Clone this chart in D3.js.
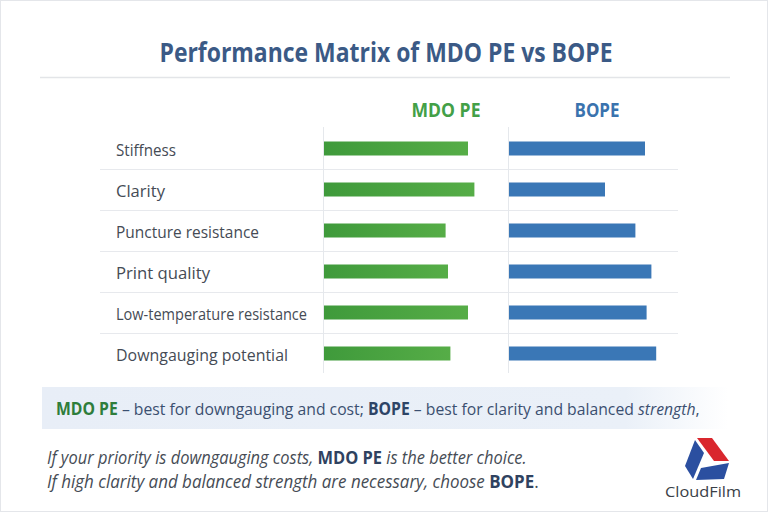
<!DOCTYPE html>
<html lang="en">
<head>
<meta charset="utf-8">
<title>Performance Matrix of MDO PE vs BOPE</title>
<script src="https://d3js.org/d3.v7.min.js"></script>
<style>
  html, body { margin: 0; padding: 0; background: #ffffff; }
  svg text { font-family: "Open Sans", "Noto Sans", sans-serif; }
</style>
</head>
<body>
<script>
// chart data
const categories = ["Stiffness", "Clarity", "Puncture resistance", "Print quality",
                    "Low-temperature resistance", "Downgauging potential"];
const mdoValues = [9.0, 9.4, 7.6, 7.75, 9.0, 7.9];
const bopeValues = [8.5, 6.0, 7.9, 8.9, 8.6, 9.2];
const seriesNames = ["MDO PE", "BOPE"];

const w = 768, h = 512;
const blue = "#3a77b6";

const svg = d3.select("body").append("svg")
    .attr("width", w).attr("height", h);

const defs = svg.append("defs");
const gGrad = defs.append("linearGradient").attr("id", "gGrad");
gGrad.append("stop").attr("offset", "0%").attr("stop-color", "#3f9a3b");
gGrad.append("stop").attr("offset", "100%").attr("stop-color", "#56ad47");
const boxGrad = defs.append("linearGradient").attr("id", "boxGrad");
boxGrad.append("stop").attr("offset", "0%").attr("stop-color", "#e8eef7");
boxGrad.append("stop").attr("offset", "85%").attr("stop-color", "#eaf0f8");
boxGrad.append("stop").attr("offset", "100%").attr("stop-color", "#ffffff");

// squeeze a mixed-style text horizontally to a target width (condensed look)
function fitWidth(g, x, y, target) {
  const bw = g.node().getBBox().width;
  g.attr("transform", `translate(${x},${y}) scale(${target / bw},1)`);
}

// card border
svg.append("rect").attr("x", 0.5).attr("y", 0.5).attr("width", w - 1).attr("height", h - 1)
    .attr("fill", "#fff").attr("stroke", "#e4e6ea");

// title
svg.append("text")
    .attr("x", 386).attr("y", 62)
    .attr("text-anchor", "middle")
    .attr("font-size", 26).attr("font-weight", 700)
    .attr("fill", "#3b5a86")
    .attr("textLength", 453).attr("lengthAdjust", "spacingAndGlyphs")
    .text("Performance Matrix of MDO PE vs BOPE");

svg.append("line").attr("x1", 40).attr("x2", 730).attr("y1", 77.5).attr("y2", 77.5)
    .attr("stroke", "#e3e5e8").attr("stroke-width", 1.5);

// scales
const y = d3.scaleBand().domain(categories).range([128, 374]);
const xMdo = d3.scaleLinear().domain([0, 10]).range([324, 484]);
const xBope = d3.scaleLinear().domain([0, 10]).range([509, 669]);
const barH = 14;

// column headers
svg.append("text").attr("x", 446).attr("y", 117).attr("text-anchor", "middle")
    .attr("font-size", 19).attr("font-weight", 700).attr("fill", "#43a047")
    .attr("textLength", 69).attr("lengthAdjust", "spacingAndGlyphs")
    .text(seriesNames[0]);
svg.append("text").attr("x", 597).attr("y", 117).attr("text-anchor", "middle")
    .attr("font-size", 19).attr("font-weight", 700).attr("fill", "#3a73ae")
    .attr("textLength", 45).attr("lengthAdjust", "spacingAndGlyphs")
    .text(seriesNames[1]);

// row separators
svg.selectAll("line.sep").data(categories.slice(0, -1)).enter().append("line")
    .attr("class", "sep")
    .attr("x1", 100).attr("x2", 678)
    .attr("y1", d => y(d) + y.step() + 0.5).attr("y2", d => y(d) + y.step() + 0.5)
    .attr("stroke", "#e7e9ed");

// column dividers
[xMdo(0), xBope(0)].forEach(x => {
  svg.append("line").attr("x1", x - 0.5).attr("x2", x - 0.5)
      .attr("y1", 127).attr("y2", 373)
      .attr("stroke", "#e5e8ec");
});

// row labels
const labelWidths = [60, 49, 143, 94, 191, 172];
svg.selectAll("text.lab").data(categories).enter().append("text")
    .attr("class", "lab")
    .attr("x", 116)
    .attr("y", d => y(d) + y.step() / 2 + 7)
    .attr("font-size", 17).attr("fill", "#454b55")
    .attr("textLength", (d, i) => labelWidths[i]).attr("lengthAdjust", "spacingAndGlyphs")
    .text(d => d);

// bars
svg.selectAll("rect.mdo").data(mdoValues).enter().append("rect")
    .attr("class", "mdo")
    .attr("x", xMdo(0))
    .attr("y", (d, i) => y(categories[i]) + (y.step() - barH) / 2)
    .attr("width", d => xMdo(d) - xMdo(0))
    .attr("height", barH)
    .attr("fill", "url(#gGrad)");

svg.selectAll("rect.bope").data(bopeValues).enter().append("rect")
    .attr("class", "bope")
    .attr("x", xBope(0))
    .attr("y", (d, i) => y(categories[i]) + (y.step() - barH) / 2)
    .attr("width", d => xBope(d) - xBope(0))
    .attr("height", barH)
    .attr("fill", blue);

// summary box
svg.append("rect").attr("x", 42).attr("y", 387).attr("width", 686).attr("height", 42)
    .attr("fill", "url(#boxGrad)");

const sumG = svg.append("g");
const sum = sumG.append("text").attr("font-size", 17).attr("fill", "#3b4f70");
sum.append("tspan").attr("font-weight", 700).attr("fill", "#2e7d3b").text("MDO PE");
sum.append("tspan").text(" \u2013 best for downgauging and cost; ");
sum.append("tspan").attr("font-weight", 700).attr("fill", "#2d4466").text("BOPE");
sum.append("tspan").text(" \u2013 best for clarity and balanced ");
sum.append("tspan").attr("font-style", "italic").text("strength");
sum.append("tspan").text(",");
fitWidth(sumG, 56, 415, 644);

// recommendations
const rec1G = svg.append("g");
const rec1 = rec1G.append("text")
    .attr("font-size", 17.5).attr("font-style", "italic").attr("fill", "#464c55");
rec1.append("tspan").text("If your priority is downgauging costs, ");
rec1.append("tspan").attr("font-weight", 700).attr("font-style", "normal").attr("fill", "#2f4260").text("MDO PE");
rec1.append("tspan").text(" is the better choice.");
fitWidth(rec1G, 47, 464, 480);

const rec2G = svg.append("g");
const rec2 = rec2G.append("text")
    .attr("font-size", 17.5).attr("font-style", "italic").attr("fill", "#464c55");
rec2.append("tspan").text("If high clarity and balanced strength are necessary, choose ");
rec2.append("tspan").attr("font-weight", 700).attr("font-style", "normal").attr("fill", "#2f4260").text("BOPE");
rec2.append("tspan").attr("font-style", "normal").text(".");
fitWidth(rec2G, 47, 488, 492);

// logo
const logo = svg.append("g").attr("transform", "translate(685,438)");
const line = d3.line();
logo.append("path").attr("d", line([[12, 0], [27, 0], [44, 23], [29, 23]]) + "Z").attr("fill", "#d9272e");
logo.append("path").attr("d", line([[10, 2], [19, 15], [8, 41], [0, 28]]) + "Z").attr("fill", "#2b4fa0");
logo.append("path").attr("d", line([[11, 42], [16, 30], [44, 25], [39, 41]]) + "Z").attr("fill", "#2b4fa0");
svg.append("text").attr("x", 703).attr("y", 497).attr("text-anchor", "middle")
    .attr("font-size", 15).attr("fill", "#3a3f47")
    .attr("textLength", 76).attr("lengthAdjust", "spacingAndGlyphs")
    .text("CloudFilm");
</script>
</body>
</html>
